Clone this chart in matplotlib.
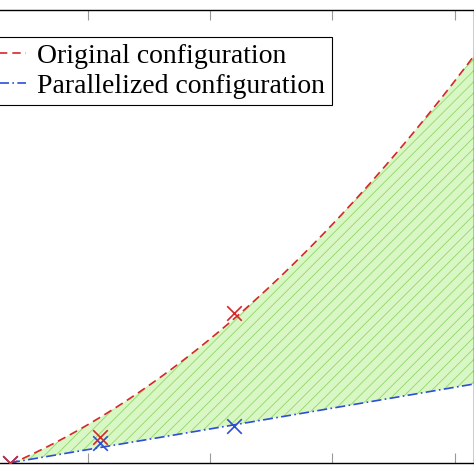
import matplotlib.pyplot as plt
import numpy as np

plt.rcParams["font.family"] = ["Liberation Serif", "DejaVu Serif"]
plt.rcParams["hatch.linewidth"] = 0.6

# curve samples (x in tick units, y normalised to axis height)
curve_x = [0.36, 1.1, 1.92, 2.74, 3.56, 4.16]
orig_y = [0.0, 0.095, 0.26, 0.459, 0.691, 0.901]
par_y = [0.0, 0.035, 0.073, 0.110, 0.143, 0.177]

# measured points
pt_x = [0.36, 1.1, 2.19]
orig_pts = [0.0, 0.057, 0.331]
par_pts = [0.0, 0.044, 0.082]

fig = plt.figure(figsize=(4.74, 4.74), dpi=100)
ax = fig.add_axes([-0.0717, 0.023, 1.072, 0.956])

xs = np.linspace(curve_x[0], curve_x[-1], 200)
# smooth quadratic through the read samples
o = np.polyval(np.polyfit(curve_x, orig_y, 2), xs)
p = np.polyval(np.polyfit(curve_x, par_y, 2), xs)

ax.fill_between(xs, p, o, facecolor="#d9f7c4", edgecolor="#8fd86a",
                hatch="///", linewidth=0)
ax.plot(xs, o, color="#d62728", ls=(0, (5, 3)), lw=1.2,
        label="Original configuration")
ax.plot(xs, p, color="#2b4fd6", ls=(0, (6, 2, 1, 2)), lw=1.2,
        label="Parallelized configuration")
ax.scatter(pt_x, par_pts, marker="x", s=110, color="#2b4fd6", lw=1.2,
           zorder=3)
ax.scatter(pt_x, orig_pts, marker="x", s=110, color="#d62728", lw=1.2,
           zorder=3)

ax.set_xlim(0, 4.16)
ax.set_ylim(0, 1)
ax.set_xticks([1, 2, 3, 4])
ax.set_xticklabels([])
ax.set_yticks([])
ax.tick_params(axis="x", direction="in", length=7, color="#999999",
               top=True)
for s in ax.spines.values():
    s.set_linewidth(1.0)

leg = ax.legend(loc="upper left", bbox_to_anchor=(0.0, 0.972),
                fontsize=20, frameon=True, fancybox=False,
                edgecolor="black", framealpha=1, handlelength=1.4,
                handletextpad=0.4, borderpad=0.25, labelspacing=0.15)
leg.get_frame().set_linewidth(0.8)

fig.savefig("out.png", dpi=100)
